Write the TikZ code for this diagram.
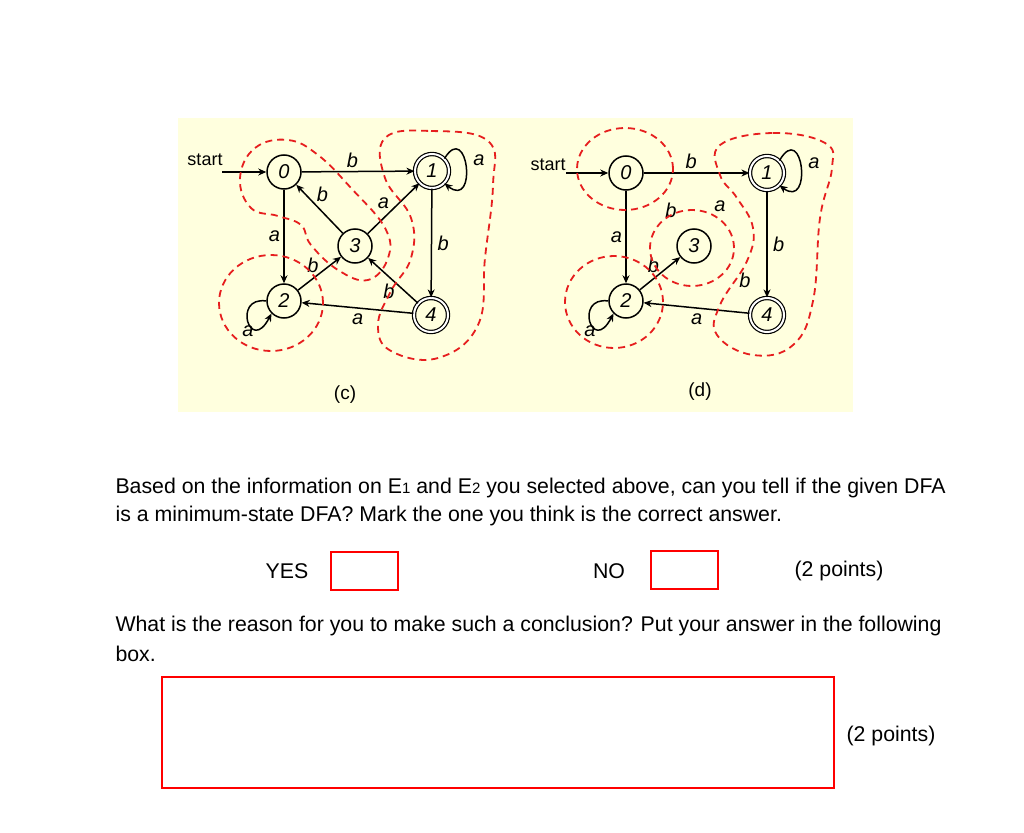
\documentclass[tikz,border=0pt]{standalone}
\usepackage{fontspec}
\setmainfont{Liberation Sans}
\usetikzlibrary{arrows.meta}
\definecolor{bgy}{RGB}{255,255,222}
\definecolor{rd}{RGB}{230,30,30}
\begin{document}
\begin{tikzpicture}[x=1pt,y=-1pt,
 st/.style={circle,draw,line width=1.5pt,minimum size=34pt,inner sep=0pt,font=\fontsize{20}{20}\selectfont\itshape},
 acc/.style={st,double,double distance=2pt,line width=1.2pt},
 tr/.style={-{Stealth[length=8pt,width=7pt]},line width=1.5pt},
 lb/.style={font=\fontsize{20}{20}\selectfont\itshape},
 grp/.style={rd,line width=1.8pt,dash pattern=on 7pt off 5pt},
 txt/.style={font=\fontsize{21.3}{24}\selectfont,anchor=west},
 box/.style={draw=red,line width=2.2pt}]
\useasboundingbox (0,0) rectangle (1024,832);
\fill[bgy] (178,118) rectangle (853,412);
% ---- (c)
\node[st] (c0) at (284,172) {0};
\node[acc] (c1) at (432,171) {1};
\node[st] (c3) at (355,246) {3};
\node[st] (c2) at (284,301) {2};
\node[acc] (c4) at (431,315) {4};
\node[font=\fontsize{18}{18}\selectfont] (cs) at (205,160) {start};
\coordinate (cst) at (222,172);
\draw[tr] (cst) -- (c0);
\draw[tr] (c0) -- node[lb,above,pos=0.45]{b} (c1);
\draw[tr] (c0) -- node[lb,left]{a} (c2);
\draw[tr] (c3) -- node[lb,pos=0.6,above right=-2pt]{b} (c0);
\draw[tr] (c3) -- node[lb,pos=0.45,above left=-2pt]{a} (c1);
\draw[tr] (c2) -- node[lb,pos=0.5,above left=-3pt]{b} (c3);
\draw[tr] (c4) -- node[lb,pos=0.45,below left=-3pt]{b} (c3);
\draw[tr] (c4) -- node[lb,below=2pt]{a} (c2);
\draw[tr] (c1) -- node[lb,right=2pt]{b} (c4);
\draw[tr] (c1.north east) .. controls (468,120) and (478,210) .. (c1.south east);
\node[lb] at (479,160) {a};
\draw[tr] (c2.west) .. controls (232,296) and (250,355) .. (c2.south west);
\node[lb] at (248,331) {a};
\draw[grp] plot[smooth cycle,tension=0.7] coordinates {(240,178) (255,148) (288,140) (318,155) (351,188) (385,228) (388,258) (368,280) (338,270) (311,245) (301,225) (278,216) (251,208)};
\draw[grp] plot[smooth cycle,tension=0.7] coordinates {(385,138) (431,131) (488,141) (493,185) (485,258) (478,325) (438,358) (391,351) (378,325) (391,291) (411,258) (411,218) (385,178)};
\draw[grp] (271,303) ellipse (52pt and 48pt);
\node[font=\fontsize{19}{19}\selectfont] (cc) at (345,395) {(c)};
% ---- (d)
\node[st] (d0) at (626,173) {0};
\node[acc] (d1) at (767,173) {1};
\node[st] (d3) at (694,246) {3};
\node[st] (d2) at (626,301) {2};
\node[acc] (d4) at (767,315) {4};
\node[font=\fontsize{18}{18}\selectfont] (ds) at (548,165) {start};
\coordinate (dst) at (566,173);
\draw[tr] (dst) -- (d0);
\draw[tr] (d0) -- node[lb,above,pos=0.45]{b} (d1);
\draw[tr] (d0) -- node[lb,left]{a} (d2);
\draw[tr] (d2) -- node[lb,pos=0.5,above left=-3pt]{b} (d3);
\draw[tr] (d4) -- node[lb,below=2pt]{a} (d2);
\draw[tr] (d1) -- node[lb,right=2pt]{b} (d4);
\draw[tr] (d1.north east) .. controls (803,120) and (813,210) .. (d1.south east);
\node[lb] at (814,163) {a};
\draw[tr] (d2.west) .. controls (574,296) and (592,355) .. (d2.south west);
\node[lb] at (590,331) {a};
\node[lb] at (671,210) {b};
\node[lb] at (720,206) {a};
\node[lb] at (745,280) {b};
\draw[grp] (625,169) ellipse (48pt and 41pt);
\draw[grp] (692,248) ellipse (42pt and 38pt);
\draw[grp] (614,302) ellipse (49pt and 46pt);
\draw[grp] plot[smooth cycle,tension=0.7] coordinates {(720,145) (773,133) (825,143) (832,168) (820,218) (813,301) (793,345) (753,355) (717,335) (720,305) (747,261) (753,228) (737,198) (720,175)};
\node[font=\fontsize{19}{19}\selectfont] (dc) at (700,392) {(d)};
% ---- text
\node[txt] (t1) at (112,488) {Based on the information on E{\fontsize{15}{15}\selectfont 1} and E{\fontsize{15}{15}\selectfont 2} you selected above, can you tell if the given DFA};
\node[txt] (t2) at (112,516) {is a minimum-state DFA? Mark the one you think is the correct answer.};
\node[font=\fontsize{21.3}{24}\selectfont] (yes) at (287,571) {YES};
\node[box,minimum width=67pt,minimum height=38pt] (by) at (364.5,571) {};
\node[font=\fontsize{21.3}{24}\selectfont] (no) at (609,571) {NO};
\node[box,minimum width=67pt,minimum height=38pt] (bn) at (684.5,570) {};
\node[font=\fontsize{21.3}{24}\selectfont] (p1) at (839,571) {(2 points)};
\node[txt] (t3) at (112,626) {What is the reason for you to make such a conclusion? Put your answer in the following};
\node[txt] (t4) at (112,654) {box.};
\draw[box] (162,677) rectangle (834,788);
\node[font=\fontsize{21.3}{24}\selectfont] (p2) at (891,736) {(2 points)};
\end{tikzpicture}
\end{document}
